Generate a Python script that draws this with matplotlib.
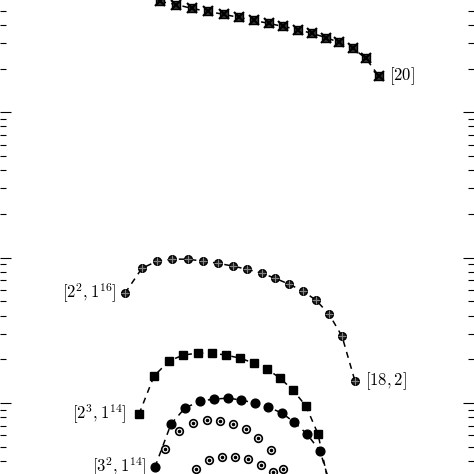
import numpy as np
import matplotlib
matplotlib.use("Agg")
import matplotlib.pyplot as plt
from matplotlib.ticker import LogLocator, NullFormatter

plt.rcParams['mathtext.fontset'] = 'cm'

# x positions (horizontal units) and log10 values of each series
x_20 = [160,176,192,208,224,239,254,269,283,298,312,326,339,353,366,379]
lg_20 = [2.763,2.742,2.715,2.694,2.674,2.653,2.632,2.612,2.591,2.570,2.543,2.515,2.481,2.440,2.371,2.247]
x_22 = [125,142,157,172,188,203,218,233,247,262,275,289,303,316,329,342,355]
lg_22 = [0.756,0.928,0.976,0.990,0.990,0.976,0.962,0.942,0.921,0.893,0.859,0.818,0.770,0.708,0.612,0.460,0.151]
x_23 = [139,154,169,183,198,212,226,240,254,267,280,293,306,318,330]
lg_23 = [-0.076,0.186,0.289,0.330,0.344,0.344,0.330,0.309,0.275,0.234,0.172,0.089,-0.021,-0.213,-0.60]
x_32 = [155,171,185,200,214,228,241,255,268,282,294,307,320,332]
lg_32 = [-0.440,-0.144,-0.034,0.014,0.027,0.034,0.021,0.0,-0.027,-0.069,-0.131,-0.213,-0.330,-0.60]
x_o1 = [165,179,193,207,220,233,246,258,271,283]
lg_o1 = [-0.316,-0.192,-0.137,-0.117,-0.124,-0.144,-0.179,-0.241,-0.323,-0.454]
x_o2 = [196,209,222,235,248,261,273]
lg_o2 = [-0.454,-0.392,-0.371,-0.371,-0.385,-0.426,-0.474]

fig = plt.figure(figsize=(4.74, 4.74), dpi=100)
ax = fig.add_axes([0, 0, 1, 1])
ax.set_yscale('log')

def v(l):
    return 10 ** np.array(l)

dash = (0, (4, 3.5))
ax.plot(x_20, v(lg_20), ls=dash, color='k', lw=1.1, marker='s', ms=5.5, mfc='#333', mec='k')
ax.plot(x_20, v(lg_20), ls='none', marker='x', ms=7, mec='k', mew=1.5)
ax.plot(x_22, v(lg_22), ls=dash, color='k', lw=1.1, marker='o', ms=5.5, mfc='#222', mec='k')
ax.plot(x_22, v(lg_22), ls='none', marker='+', ms=5.5, mec='#888', mew=0.7)
ax.plot(x_23, v(lg_23), ls=dash, color='k', lw=1.1, marker='s', ms=5.8, mfc='k', mec='k', markevery=list(range(len(x_23)-1)))
ax.plot(x_32, v(lg_32), ls=dash, color='k', lw=1.1, marker='o', ms=6.3, mfc='k', mec='k', markevery=list(range(len(x_32)-1)))
for xs, ls in [(x_o1, lg_o1), (x_o2, lg_o2)]:
    ax.plot(xs, v(ls), ls='none', marker='o', ms=5.5, mfc='white', mec='k', mew=1.2)
    ax.plot(xs, v(ls), ls='none', marker='o', ms=1.6, mfc='k', mec='k')

kw = dict(fontsize=12, va='center')
ax.text(x_20[-1] + 10, 10 ** lg_20[-1], r'$[20]$', ha='left', **kw)
ax.text(x_22[-1] + 10, 10 ** lg_22[-1], r'$[18,2]$', ha='left', **kw)
ax.text(x_22[0] - 8, 10 ** lg_22[0], r'$[2^2,1^{16}]$', ha='right', **kw)
ax.text(x_23[0] - 12, 10 ** lg_23[0], r'$[2^3,1^{14}]$', ha='right', **kw)
ax.text(x_32[0] - 8, 10 ** lg_32[0], r'$[3^2,1^{14}]$', ha='right', **kw)

ax.set_xlim(0, 474)
ax.set_ylim(10 ** -0.488, 10 ** 2.773)
for s in ax.spines.values():
    s.set_visible(False)
ax.set_xticks([])
ax.yaxis.set_major_locator(LogLocator(base=10, numticks=10))
ax.yaxis.set_minor_locator(LogLocator(base=10, subs=np.arange(2, 10), numticks=20))
ax.yaxis.set_minor_formatter(NullFormatter())
ax.tick_params(axis='y', which='both', direction='in', left=True, right=True, labelleft=False, labelright=False)
ax.tick_params(axis='y', which='major', length=8, width=0.8)
ax.tick_params(axis='y', which='minor', length=4, width=0.8)

fig.savefig('out.png', dpi=100)
